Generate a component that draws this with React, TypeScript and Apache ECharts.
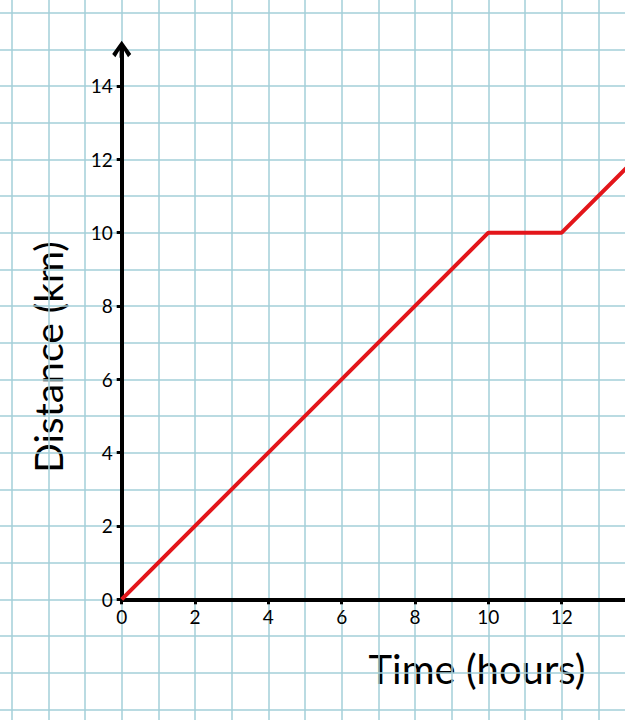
import React, { useEffect, useRef } from "react";
import * as echarts from "echarts";

const timeHours = [0, 10, 12, 14];
const distanceKm = [0, 10, 10, 12];
const xTickLabels = [0, 2, 4, 6, 8, 10, 12];
const yTickLabels = [0, 2, 4, 6, 8, 10, 12, 14];
const gridXLines = [-3, -2, -1, 0, 1, 2, 3, 4, 5, 6, 7, 8, 9, 10, 11, 12, 13];
const gridYLines = [-3, -2, -1, 0, 1, 2, 3, 4, 5, 6, 7, 8, 9, 10, 11, 12, 13, 14, 15, 16];
const xTitle = "Time (hours)";
const yTitle = "Distance (km)";

const UNIT = 36.667;
const ORIGIN_X = 121.7;
const ORIGIN_Y = 599.3;
const W = 625;
const H = 720;

export default function App() {
  const ref = useRef<HTMLDivElement>(null);
  useEffect(() => {
    if (!ref.current) return;
    const chart = echarts.init(ref.current, null, { renderer: "svg" });
    const font = "Lato, sans-serif";
    const gridColor = "#a3cfd8";
    const bg = {
      xMin: -ORIGIN_X / UNIT,
      xMax: (W - ORIGIN_X) / UNIT,
      yMin: -(H - ORIGIN_Y) / UNIT,
      yMax: ORIGIN_Y / UNIT,
    };
    const mainYMax = 15;
    const arrowPath =
      "path://M9,0 L18,12.5 L15,15.5 L11,9 L11,16 L7,16 L7,9 L3,15.5 L0,12.5 Z";
    chart.setOption({
      animation: false,
      backgroundColor: "#ffffff",
      grid: [
        { left: 0, right: 0, top: 0, bottom: 0 },
        {
          left: ORIGIN_X,
          right: 0,
          top: ORIGIN_Y - mainYMax * UNIT,
          bottom: H - ORIGIN_Y,
        },
      ],
      xAxis: [
        {
          gridIndex: 0,
          type: "value",
          min: bg.xMin,
          max: bg.xMax,
          axisLine: { show: false },
          axisTick: { show: false, customValues: gridXLines },
          axisLabel: { show: false },
          splitLine: { show: true, lineStyle: { color: gridColor, width: 1.5 } },
        },
        {
          gridIndex: 1,
          type: "value",
          min: 0,
          max: bg.xMax,
          axisLine: { show: true, lineStyle: { color: "#000", width: 4 } },
          axisTick: {
            show: true,
            customValues: xTickLabels,
            length: 5,
            lineStyle: { color: "#000", width: 3 },
          },
          axisLabel: {
            show: true,
            customValues: xTickLabels,
            margin: 8,
            color: "#000",
            fontFamily: font,
            fontSize: 19,
          },
          splitLine: { show: false },
        },
      ],
      yAxis: [
        {
          gridIndex: 0,
          type: "value",
          min: bg.yMin,
          max: bg.yMax,
          axisLine: { show: false },
          axisTick: { show: false, customValues: gridYLines },
          axisLabel: { show: false },
          splitLine: { show: true, lineStyle: { color: gridColor, width: 1.5 } },
        },
        {
          gridIndex: 1,
          type: "value",
          min: 0,
          max: mainYMax,
          axisLine: {
            show: true,
            lineStyle: { color: "#000", width: 4 },
            symbol: ["none", arrowPath],
            symbolSize: [19, 17],
          },
          axisTick: {
            show: true,
            customValues: yTickLabels,
            length: 5,
            lineStyle: { color: "#000", width: 3 },
          },
          axisLabel: {
            show: true,
            customValues: yTickLabels,
            margin: 9,
            color: "#000",
            fontFamily: font,
            fontSize: 19,
          },
          splitLine: { show: false },
        },
      ],
      series: [
        {
          type: "line",
          xAxisIndex: 1,
          yAxisIndex: 1,
          data: timeHours.map((t, i) => [t, distanceKm[i]]),
          symbol: "none",
          lineStyle: { color: "#e3161b", width: 4 },
          z: 5,
        },
      ],
      graphic: [
        {
          type: "text",
          x: 477,
          y: 669,
          style: {
            text: xTitle,
            font: `40px ${font}`,
            fill: "#000",
            textAlign: "center",
            textVerticalAlign: "middle",
          },
        },
        {
          type: "text",
          x: 48,
          y: 357,
          rotation: Math.PI / 2,
          style: {
            text: yTitle,
            font: `39px ${font}`,
            fill: "#000",
            textAlign: "center",
            textVerticalAlign: "middle",
          },
        },
      ],
    });
    return () => chart.dispose();
  }, []);
  return (
    <div
      ref={ref}
      style={{ position: "fixed", left: 0, top: 0, width: W, height: H, background: "#fff" }}
    />
  );
}
